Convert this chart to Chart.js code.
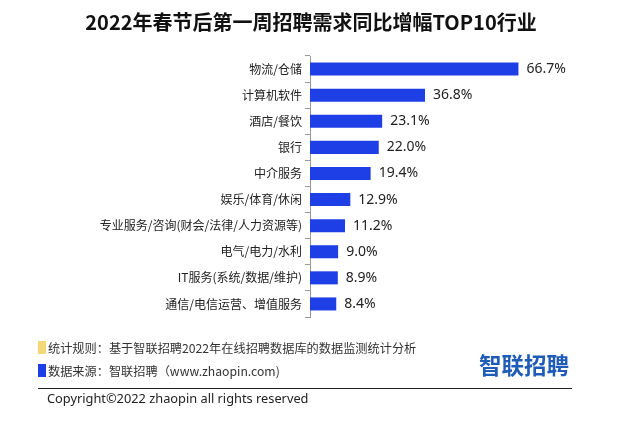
<!DOCTYPE html>
<html>
<head>
<meta charset="utf-8">
<script src="https://cdn.jsdelivr.net/npm/chart.js@4"></script>
<style>
  body { margin: 0; background: #fff; font-family: "Noto Sans CJK SC", "Noto Sans", sans-serif; }
  #wrap { position: relative; width: 627px; height: 422px; overflow: hidden; }
  #myChart { position: absolute; left: 0; top: 0; }
  .t { position: absolute; white-space: nowrap; color: #222; }
  #title { left: 0; width: 622px; top: 7px; text-align: center; font-size: 20px; font-weight: bold; color: #111; }
  .sq { position: absolute; left: 38px; width: 8px; height: 13px; }
  .note { left: 48px; font-size: 12.2px; color: #333; }
  #logo { left: 479px; top: 348px; font-size: 22.5px; font-weight: bold; color: #1f5cb8; }
  #line { position: absolute; left: 38px; top: 388px; width: 534px; height: 1px; background: #222; }
  #copy { left: 47px; top: 389px; font-size: 12.8px; font-family: "Noto Sans", sans-serif; color: #222; }
</style>
</head>
<body>
<div id="wrap">
  <canvas id="myChart" width="627" height="422"></canvas>
  <div class="t" id="title">2022年春节后第一周招聘需求同比增幅TOP10行业</div>
  <div class="sq" style="top:341px;background:#f5d77a;"></div>
  <div class="t note" style="top:339px;">统计规则：基于智联招聘2022年在线招聘数据库的数据监测统计分析</div>
  <div class="sq" style="top:364px;background:#1f3fe6;"></div>
  <div class="t note" style="top:362px;">数据来源：智联招聘（www.zhaopin.com)</div>
  <div class="t" id="logo">智联招聘</div>
  <div id="line"></div>
  <div class="t" id="copy">Copyright©2022 zhaopin all rights reserved</div>
</div>
<script>
// categories and values (% YoY growth)
const industries = ['物流/仓储', '计算机软件', '酒店/餐饮', '银行', '中介服务', '娱乐/体育/休闲',
    '专业服务/咨询(财会/法律/人力资源等)', '电气/电力/水利', 'IT服务(系统/数据/维护)', '通信/电信运营、增值服务'];
const growth = [66.7, 36.8, 23.1, 22.0, 19.4, 12.9, 11.2, 9.0, 8.9, 8.4];

const ctx = document.getElementById('myChart');

// value labels at end of bars
const valueLabels = {
    id: 'valueLabels',
    afterDatasetsDraw(chart) {
        const c = chart.ctx;
        const meta = chart.getDatasetMeta(0);
        c.save();
        c.font = '14px "Noto Sans", sans-serif';
        c.fillStyle = '#222';
        c.textAlign = 'left';
        c.textBaseline = 'middle';
        meta.data.forEach((bar, i) => {
            c.fillText(growth[i].toFixed(1) + '%', bar.x + 8, bar.y);
        });
        c.restore();
    }
};

new Chart(ctx, {
    type: 'bar',
    data: {
        labels: industries,
        datasets: [{
            data: growth,
            backgroundColor: '#1f3fe6',
            barPercentage: 0.5,
            categoryPercentage: 1.0
        }]
    },
    options: {
        indexAxis: 'y',
        responsive: false,
        animation: false,
        layout: { padding: { top: 56, bottom: 105, right: 67, left: 0 } },
        plugins: {
            legend: { display: false },
            tooltip: { enabled: false }
        },
        scales: {
            x: { display: false, min: 0, max: 80 },
            y: {
                afterFit: (scale) => { scale.width = 310; },
                grid: { drawOnChartArea: false, drawTicks: true, tickLength: 5, color: '#999' },
                border: { display: true, color: '#999' },
                ticks: {
                    padding: 3,
                    color: '#222',
                    font: { size: 12, family: '"Noto Sans CJK SC", sans-serif' }
                }
            }
        }
    },
    plugins: [valueLabels]
});
</script>
</body>
</html>
